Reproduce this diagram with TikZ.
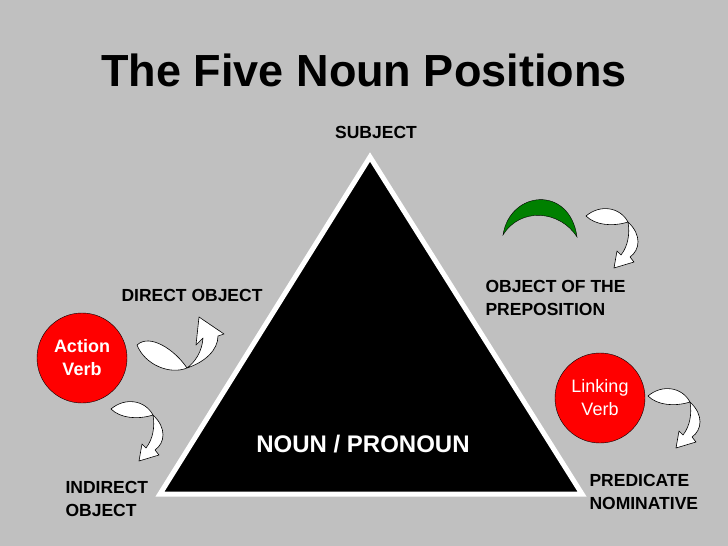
\documentclass[tikz,border=0pt]{standalone}
\usepackage{fontspec}
\setmainfont{Liberation Sans}
\begin{document}
\begin{tikzpicture}[x=1pt,y=-1pt,
 lbl/.style={font=\bfseries\fontsize{17.5}{23}\selectfont,align=left,anchor=west},
 verb/.style={circle,draw=black,fill=red,minimum size=90pt,inner sep=0pt,text=white,font=\fontsize{18}{23}\selectfont,align=center},
 arr/.style={draw=black,fill=white,line width=0.6pt,line join=round}]
\fill[fill={rgb,255:red,192;green,192;blue,192}] (0,0) rectangle (728,546);
\useasboundingbox (0,0) rectangle (728,546);
\node (title) at (364,70) {\bfseries\fontsize{45}{50}\selectfont The Five Noun Positions};
\draw[fill=black,draw=white,line width=5pt,line join=miter] (370,157) -- (582,494) -- (160,494) -- cycle;
\node[text=white,font=\bfseries\fontsize{24}{28}\selectfont] (noun) at (363,444) {NOUN / PRONOUN};
\node[font=\bfseries\fontsize{17.5}{23}\selectfont] (subj) at (376,132) {SUBJECT};
\node[lbl] (do) at (118,295) {DIRECT OBJECT};
\node[lbl] (io) at (62,499) {INDIRECT\\OBJECT};
\node[lbl] (op) at (482,298) {OBJECT OF THE\\PREPOSITION};
\node[lbl] (pn) at (586,492) {PREDICATE\\NOMINATIVE};
\node[verb] (av) at (82,358) {\bfseries Action\\\bfseries Verb};
\node[verb] (lv) at (600,398) {Linking\\Verb};
\fill[fill={rgb,255:red,0;green,128;blue,0},draw=black] (503,235) .. controls (510,190) and (570,185) .. (577,237) .. controls (560,210) and (520,207) .. cycle;
% down curved arrows
\foreach \dx/\dy in {0/0, 62/180, -475/193}{
\begin{scope}[shift={(\dx,\dy)}]
\draw[arr] (586,216) .. controls (600,204) and (620,207) .. (628,222) .. controls (642,235) and (640,250) .. (630,257) -- (634,262) -- (614,268) -- (617,251) -- (621,255) .. controls (628,246) and (630,234) .. (628,222) .. controls (612,227) and (595,225) .. cycle;
\end{scope}}
% up curved arrow
\draw[arr] (137,345) .. controls (150,333) and (175,350) .. (187,368) .. controls (205,362) and (218,350) .. (218,336) -- (224,334) -- (199,317) -- (196,345) -- (203,338) .. controls (202,352) and (195,362) .. (187,368) .. controls (170,375) and (145,365) .. cycle;
\end{tikzpicture}
\end{document}
